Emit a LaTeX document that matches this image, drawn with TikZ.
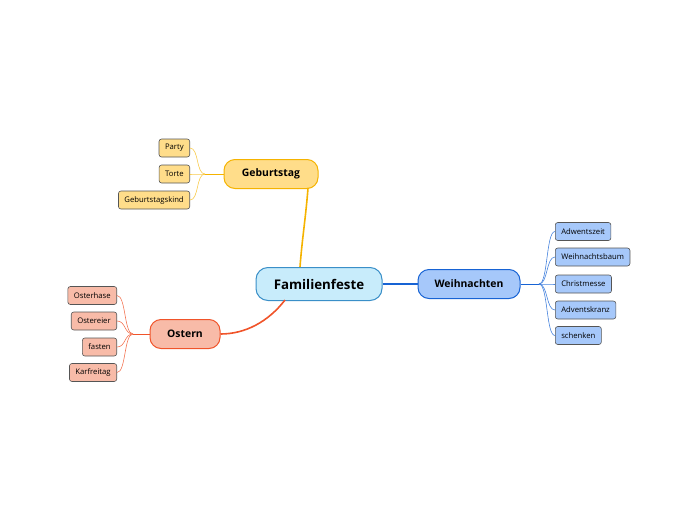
\documentclass[tikz,border=0pt]{standalone}
\usepackage{fontspec}
\setmainfont{Open Sans}
\begin{document}
\begin{tikzpicture}[x=1pt,y=-1pt,
  root/.style={draw=rootb,fill=rootf,line width=1pt,rounded corners=12pt,minimum width=126pt,minimum height=33pt,font=\fontsize{13.3}{15}\selectfont\bfseries},
  topic/.style={line width=1pt,rounded corners=11pt,minimum height=29pt,inner xsep=4pt,font=\fontsize{10.4}{12}\selectfont\bfseries},
  leaf/.style={draw=leafb,line width=0.6pt,rounded corners=2.5pt,minimum height=18pt,inner xsep=6pt,inner ysep=0pt,font=\fontsize{7.7}{9}\selectfont},
  main/.style={line width=1.6pt},
  sub/.style={line width=0.6pt}]
\definecolor{rootb}{HTML}{3A8FC8}
\definecolor{rootf}{HTML}{C8ECFB}
\definecolor{gebb}{HTML}{F5B300}
\definecolor{gebf}{HTML}{FFDD8A}
\definecolor{ostb}{HTML}{F0542A}
\definecolor{ostf}{HTML}{F8BBA8}
\definecolor{weib}{HTML}{1763D4}
\definecolor{weif}{HTML}{A6C8FA}
\definecolor{leafb}{HTML}{555555}
\useasboundingbox (0,0) rectangle (697,520);

\node[root] (r) at (319,284) {Familienfeste};
\node[topic,draw=weib,fill=weif,minimum width=102pt] (w) at (469,284) {Weihnachten};
\node[topic,draw=gebb,fill=gebf,minimum width=94pt] (g) at (271,174) {Geburtstag};
\node[topic,draw=ostb,fill=ostf,minimum width=70pt] (o) at (185,334) {Ostern};

% Geburtstag leaves
\node[leaf,fill=gebf,anchor=east] (g1) at (190,148) {Party};
\node[leaf,fill=gebf,anchor=east] (g2) at (190,174) {Torte};
\node[leaf,fill=gebf,anchor=east] (g3) at (190,200) {Geburtstagskind};
% Ostern leaves
\node[leaf,fill=ostf,anchor=east] (o1) at (117,295.5) {Osterhase};
\node[leaf,fill=ostf,anchor=east] (o2) at (117,321) {Ostereier};
\node[leaf,fill=ostf,anchor=east] (o3) at (117,347) {fasten};
\node[leaf,fill=ostf,anchor=east] (o4) at (117,372.5) {Karfreitag};
% Weihnachten leaves
\node[leaf,fill=weif,anchor=west] (w1) at (555,231.5) {Adwentszeit};
\node[leaf,fill=weif,anchor=west] (w2) at (555,257) {Weihnachtsbaum};
\node[leaf,fill=weif,anchor=west] (w3) at (555,284) {Christmesse};
\node[leaf,fill=weif,anchor=west] (w4) at (555,310) {Adventskranz};
\node[leaf,fill=weif,anchor=west] (w5) at (555,335.5) {schenken};

% main connectors
\coordinate (rt) at (300,267);
\coordinate (gb) at (308,188);
\draw[main,gebb] (rt) .. controls (302,240) and (306,215) .. (gb);
\coordinate (rb) at (285,300);
\draw[main,ostb] (rb) .. controls (268,322) and (245,334) .. (o.east);
\draw[main,weib] (r.east) -- (w.west);

% junctions
\coordinate (gj) at (205,174);
\coordinate (oj) at (133,334);
\coordinate (wj) at (539,284);
\draw[sub,gebb] (g.west) -- (gj);
\draw[sub,ostb] (o.west) -- (oj);
\draw[sub,weib] (w.east) -- (wj);
\foreach \n in {g1,g2,g3}
  \draw[sub,gebb!70] (gj) .. controls +(-9,0) and +(9,0) .. (\n.east);
\foreach \n in {o1,o2,o3,o4}
  \draw[sub,ostb!80] (oj) .. controls +(-9,0) and +(9,0) .. (\n.east);
\foreach \n in {w1,w2,w3,w4,w5}
  \draw[sub,weib!80] (wj) .. controls +(9,0) and +(-9,0) .. (\n.west);
\end{tikzpicture}
\end{document}
